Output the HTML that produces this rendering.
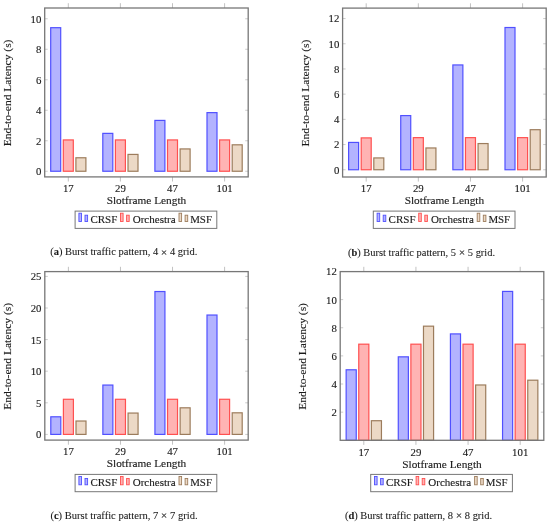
<!DOCTYPE html>
<html><head><meta charset="utf-8"><style>
html,body{margin:0;padding:0;background:#fff;}
svg{display:block;will-change:transform;}
.t{font-family:"Liberation Serif", serif;font-size:10.8px;fill:#1a1a1a;stroke:#1a1a1a;stroke-width:0.12px;}
.cap{font-family:"Liberation Serif", serif;font-size:10px;fill:#1a1a1a;stroke:#1a1a1a;stroke-width:0.08px;}
</style></head><body>
<svg width="550" height="524" viewBox="0 0 550 524">
<rect width="550" height="524" fill="#fff"/>
<rect x="50.70" y="27.69" width="10.00" height="143.56" fill="#b3b3ff" stroke="#5050ff" stroke-width="1.2"/>
<rect x="63.30" y="139.93" width="10.00" height="31.32" fill="#ffb3b3" stroke="#ff5050" stroke-width="1.2"/>
<rect x="75.90" y="157.77" width="10.00" height="13.48" fill="#ecd9c6" stroke="#9c7c5c" stroke-width="1.2"/>
<rect x="102.80" y="133.37" width="10.00" height="37.88" fill="#b3b3ff" stroke="#5050ff" stroke-width="1.2"/>
<rect x="115.40" y="139.93" width="10.00" height="31.32" fill="#ffb3b3" stroke="#ff5050" stroke-width="1.2"/>
<rect x="128.00" y="154.42" width="10.00" height="16.83" fill="#ecd9c6" stroke="#9c7c5c" stroke-width="1.2"/>
<rect x="154.90" y="120.41" width="10.00" height="50.84" fill="#b3b3ff" stroke="#5050ff" stroke-width="1.2"/>
<rect x="167.50" y="139.93" width="10.00" height="31.32" fill="#ffb3b3" stroke="#ff5050" stroke-width="1.2"/>
<rect x="180.10" y="148.93" width="10.00" height="22.32" fill="#ecd9c6" stroke="#9c7c5c" stroke-width="1.2"/>
<rect x="207.00" y="112.63" width="10.00" height="58.62" fill="#b3b3ff" stroke="#5050ff" stroke-width="1.2"/>
<rect x="219.60" y="139.93" width="10.00" height="31.32" fill="#ffb3b3" stroke="#ff5050" stroke-width="1.2"/>
<rect x="232.20" y="144.81" width="10.00" height="26.44" fill="#ecd9c6" stroke="#9c7c5c" stroke-width="1.2"/>
<line x1="44.70" y1="171.25" x2="47.70" y2="171.25" stroke="#999" stroke-width="0.5"/>
<line x1="245.20" y1="171.25" x2="248.20" y2="171.25" stroke="#999" stroke-width="0.5"/>
<text x="41.40" y="175.15" text-anchor="end" class="t">0</text>
<line x1="44.70" y1="140.75" x2="47.70" y2="140.75" stroke="#999" stroke-width="0.5"/>
<line x1="245.20" y1="140.75" x2="248.20" y2="140.75" stroke="#999" stroke-width="0.5"/>
<text x="41.40" y="144.65" text-anchor="end" class="t">2</text>
<line x1="44.70" y1="110.25" x2="47.70" y2="110.25" stroke="#999" stroke-width="0.5"/>
<line x1="245.20" y1="110.25" x2="248.20" y2="110.25" stroke="#999" stroke-width="0.5"/>
<text x="41.40" y="114.15" text-anchor="end" class="t">4</text>
<line x1="44.70" y1="79.75" x2="47.70" y2="79.75" stroke="#999" stroke-width="0.5"/>
<line x1="245.20" y1="79.75" x2="248.20" y2="79.75" stroke="#999" stroke-width="0.5"/>
<text x="41.40" y="83.65" text-anchor="end" class="t">6</text>
<line x1="44.70" y1="49.25" x2="47.70" y2="49.25" stroke="#999" stroke-width="0.5"/>
<line x1="245.20" y1="49.25" x2="248.20" y2="49.25" stroke="#999" stroke-width="0.5"/>
<text x="41.40" y="53.15" text-anchor="end" class="t">8</text>
<line x1="44.70" y1="18.75" x2="47.70" y2="18.75" stroke="#999" stroke-width="0.5"/>
<line x1="245.20" y1="18.75" x2="248.20" y2="18.75" stroke="#999" stroke-width="0.5"/>
<text x="41.40" y="22.65" text-anchor="end" class="t">10</text>
<line x1="68.30" y1="3.20" x2="68.30" y2="8.00" stroke="#999" stroke-width="0.6"/>
<line x1="68.30" y1="176.90" x2="68.30" y2="181.50" stroke="#999" stroke-width="0.6"/>
<text x="68.30" y="192.10" text-anchor="middle" class="t">17</text>
<line x1="120.40" y1="3.20" x2="120.40" y2="8.00" stroke="#999" stroke-width="0.6"/>
<line x1="120.40" y1="176.90" x2="120.40" y2="181.50" stroke="#999" stroke-width="0.6"/>
<text x="120.40" y="192.10" text-anchor="middle" class="t">29</text>
<line x1="172.50" y1="3.20" x2="172.50" y2="8.00" stroke="#999" stroke-width="0.6"/>
<line x1="172.50" y1="176.90" x2="172.50" y2="181.50" stroke="#999" stroke-width="0.6"/>
<text x="172.50" y="192.10" text-anchor="middle" class="t">47</text>
<line x1="224.60" y1="3.20" x2="224.60" y2="8.00" stroke="#999" stroke-width="0.6"/>
<line x1="224.60" y1="176.90" x2="224.60" y2="181.50" stroke="#999" stroke-width="0.6"/>
<text x="224.60" y="192.10" text-anchor="middle" class="t">101</text>
<rect x="44.70" y="8.00" width="203.50" height="168.90" fill="none" stroke="#777777" stroke-width="1.3"/>
<text x="146.45" y="204.10" text-anchor="middle" class="t" textLength="79.5" lengthAdjust="spacingAndGlyphs">Slotframe Length</text>
<text transform="translate(10.90,92.95) rotate(-90)" x="0" y="0" text-anchor="middle" class="t" textLength="106.8" lengthAdjust="spacingAndGlyphs">End-to-end Latency (s)</text>
<rect x="75.10" y="211.10" width="141.7" height="17.3" fill="#fff" stroke="#777777" stroke-width="1"/>
<rect x="78.90" y="213.20" width="2.6" height="8.3" fill="#b3b3ff" stroke="#5050ff" stroke-width="0.9"/>
<rect x="85.00" y="215.20" width="2.6" height="6.3" fill="#b3b3ff" stroke="#5050ff" stroke-width="0.9"/>
<text x="90.40" y="222.50" class="t" textLength="27.0" lengthAdjust="spacingAndGlyphs">CRSF</text>
<rect x="120.50" y="213.20" width="2.6" height="8.3" fill="#ffb3b3" stroke="#ff5050" stroke-width="0.9"/>
<rect x="126.60" y="215.20" width="2.6" height="6.3" fill="#ffb3b3" stroke="#ff5050" stroke-width="0.9"/>
<text x="132.70" y="222.50" class="t" textLength="42.9" lengthAdjust="spacingAndGlyphs">Orchestra</text>
<rect x="179.00" y="213.20" width="2.6" height="8.3" fill="#ecd9c6" stroke="#9c7c5c" stroke-width="0.9"/>
<rect x="185.10" y="215.20" width="2.6" height="6.3" fill="#ecd9c6" stroke="#9c7c5c" stroke-width="0.9"/>
<text x="190.20" y="222.50" class="t" textLength="21.8" lengthAdjust="spacingAndGlyphs">MSF</text>
<text x="50.20" y="255.40" class="cap" textLength="147.2" lengthAdjust="spacingAndGlyphs">(<tspan font-weight="bold">a</tspan>) Burst traffic pattern, 4 <tspan font-size="11px" dy="0.5">×</tspan><tspan dy="-0.5"> 4 grid.</tspan></text>
<rect x="348.60" y="142.43" width="10.00" height="27.32" fill="#b3b3ff" stroke="#5050ff" stroke-width="1.2"/>
<rect x="361.20" y="137.89" width="10.00" height="31.86" fill="#ffb3b3" stroke="#ff5050" stroke-width="1.2"/>
<rect x="373.80" y="157.93" width="10.00" height="11.82" fill="#ecd9c6" stroke="#9c7c5c" stroke-width="1.2"/>
<rect x="400.73" y="115.59" width="10.00" height="54.16" fill="#b3b3ff" stroke="#5050ff" stroke-width="1.2"/>
<rect x="413.33" y="137.64" width="10.00" height="32.11" fill="#ffb3b3" stroke="#ff5050" stroke-width="1.2"/>
<rect x="425.93" y="147.97" width="10.00" height="21.78" fill="#ecd9c6" stroke="#9c7c5c" stroke-width="1.2"/>
<rect x="452.87" y="64.94" width="10.00" height="104.81" fill="#b3b3ff" stroke="#5050ff" stroke-width="1.2"/>
<rect x="465.47" y="137.64" width="10.00" height="32.11" fill="#ffb3b3" stroke="#ff5050" stroke-width="1.2"/>
<rect x="478.07" y="143.56" width="10.00" height="26.19" fill="#ecd9c6" stroke="#9c7c5c" stroke-width="1.2"/>
<rect x="505.00" y="27.52" width="10.00" height="142.23" fill="#b3b3ff" stroke="#5050ff" stroke-width="1.2"/>
<rect x="517.60" y="137.64" width="10.00" height="32.11" fill="#ffb3b3" stroke="#ff5050" stroke-width="1.2"/>
<rect x="530.20" y="129.70" width="10.00" height="40.05" fill="#ecd9c6" stroke="#9c7c5c" stroke-width="1.2"/>
<line x1="342.60" y1="169.75" x2="345.60" y2="169.75" stroke="#999" stroke-width="0.5"/>
<line x1="543.20" y1="169.75" x2="546.20" y2="169.75" stroke="#999" stroke-width="0.5"/>
<text x="339.30" y="173.65" text-anchor="end" class="t">0</text>
<line x1="342.60" y1="144.55" x2="345.60" y2="144.55" stroke="#999" stroke-width="0.5"/>
<line x1="543.20" y1="144.55" x2="546.20" y2="144.55" stroke="#999" stroke-width="0.5"/>
<text x="339.30" y="148.45" text-anchor="end" class="t">2</text>
<line x1="342.60" y1="119.35" x2="345.60" y2="119.35" stroke="#999" stroke-width="0.5"/>
<line x1="543.20" y1="119.35" x2="546.20" y2="119.35" stroke="#999" stroke-width="0.5"/>
<text x="339.30" y="123.25" text-anchor="end" class="t">4</text>
<line x1="342.60" y1="94.15" x2="345.60" y2="94.15" stroke="#999" stroke-width="0.5"/>
<line x1="543.20" y1="94.15" x2="546.20" y2="94.15" stroke="#999" stroke-width="0.5"/>
<text x="339.30" y="98.05" text-anchor="end" class="t">6</text>
<line x1="342.60" y1="68.95" x2="345.60" y2="68.95" stroke="#999" stroke-width="0.5"/>
<line x1="543.20" y1="68.95" x2="546.20" y2="68.95" stroke="#999" stroke-width="0.5"/>
<text x="339.30" y="72.85" text-anchor="end" class="t">8</text>
<line x1="342.60" y1="43.75" x2="345.60" y2="43.75" stroke="#999" stroke-width="0.5"/>
<line x1="543.20" y1="43.75" x2="546.20" y2="43.75" stroke="#999" stroke-width="0.5"/>
<text x="339.30" y="47.65" text-anchor="end" class="t">10</text>
<line x1="342.60" y1="18.55" x2="345.60" y2="18.55" stroke="#999" stroke-width="0.5"/>
<line x1="543.20" y1="18.55" x2="546.20" y2="18.55" stroke="#999" stroke-width="0.5"/>
<text x="339.30" y="22.45" text-anchor="end" class="t">12</text>
<line x1="366.20" y1="3.30" x2="366.20" y2="8.10" stroke="#999" stroke-width="0.6"/>
<line x1="366.20" y1="177.00" x2="366.20" y2="181.60" stroke="#999" stroke-width="0.6"/>
<text x="366.20" y="192.20" text-anchor="middle" class="t">17</text>
<line x1="418.33" y1="3.30" x2="418.33" y2="8.10" stroke="#999" stroke-width="0.6"/>
<line x1="418.33" y1="177.00" x2="418.33" y2="181.60" stroke="#999" stroke-width="0.6"/>
<text x="418.33" y="192.20" text-anchor="middle" class="t">29</text>
<line x1="470.47" y1="3.30" x2="470.47" y2="8.10" stroke="#999" stroke-width="0.6"/>
<line x1="470.47" y1="177.00" x2="470.47" y2="181.60" stroke="#999" stroke-width="0.6"/>
<text x="470.47" y="192.20" text-anchor="middle" class="t">47</text>
<line x1="522.60" y1="3.30" x2="522.60" y2="8.10" stroke="#999" stroke-width="0.6"/>
<line x1="522.60" y1="177.00" x2="522.60" y2="181.60" stroke="#999" stroke-width="0.6"/>
<text x="522.60" y="192.20" text-anchor="middle" class="t">101</text>
<rect x="342.60" y="8.10" width="203.60" height="168.90" fill="none" stroke="#777777" stroke-width="1.3"/>
<text x="444.40" y="204.20" text-anchor="middle" class="t" textLength="79.5" lengthAdjust="spacingAndGlyphs">Slotframe Length</text>
<text transform="translate(308.80,93.05) rotate(-90)" x="0" y="0" text-anchor="middle" class="t" textLength="106.8" lengthAdjust="spacingAndGlyphs">End-to-end Latency (s)</text>
<rect x="373.30" y="211.10" width="141.7" height="17.3" fill="#fff" stroke="#777777" stroke-width="1"/>
<rect x="377.10" y="213.20" width="2.6" height="8.3" fill="#b3b3ff" stroke="#5050ff" stroke-width="0.9"/>
<rect x="383.20" y="215.20" width="2.6" height="6.3" fill="#b3b3ff" stroke="#5050ff" stroke-width="0.9"/>
<text x="388.60" y="222.50" class="t" textLength="27.0" lengthAdjust="spacingAndGlyphs">CRSF</text>
<rect x="418.70" y="213.20" width="2.6" height="8.3" fill="#ffb3b3" stroke="#ff5050" stroke-width="0.9"/>
<rect x="424.80" y="215.20" width="2.6" height="6.3" fill="#ffb3b3" stroke="#ff5050" stroke-width="0.9"/>
<text x="430.90" y="222.50" class="t" textLength="42.9" lengthAdjust="spacingAndGlyphs">Orchestra</text>
<rect x="477.20" y="213.20" width="2.6" height="8.3" fill="#ecd9c6" stroke="#9c7c5c" stroke-width="0.9"/>
<rect x="483.30" y="215.20" width="2.6" height="6.3" fill="#ecd9c6" stroke="#9c7c5c" stroke-width="0.9"/>
<text x="488.40" y="222.50" class="t" textLength="21.8" lengthAdjust="spacingAndGlyphs">MSF</text>
<text x="347.90" y="255.50" class="cap" textLength="147.2" lengthAdjust="spacingAndGlyphs">(<tspan font-weight="bold">b</tspan>) Burst traffic pattern, 5 <tspan font-size="11px" dy="0.5">×</tspan><tspan dy="-0.5"> 5 grid.</tspan></text>
<rect x="50.80" y="416.79" width="10.00" height="17.61" fill="#b3b3ff" stroke="#5050ff" stroke-width="1.2"/>
<rect x="63.40" y="399.28" width="10.00" height="35.12" fill="#ffb3b3" stroke="#ff5050" stroke-width="1.2"/>
<rect x="76.00" y="421.02" width="10.00" height="13.38" fill="#ecd9c6" stroke="#9c7c5c" stroke-width="1.2"/>
<rect x="102.87" y="385.06" width="10.00" height="49.34" fill="#b3b3ff" stroke="#5050ff" stroke-width="1.2"/>
<rect x="115.47" y="399.28" width="10.00" height="35.12" fill="#ffb3b3" stroke="#ff5050" stroke-width="1.2"/>
<rect x="128.07" y="413.06" width="10.00" height="21.34" fill="#ecd9c6" stroke="#9c7c5c" stroke-width="1.2"/>
<rect x="154.93" y="291.53" width="10.00" height="142.87" fill="#b3b3ff" stroke="#5050ff" stroke-width="1.2"/>
<rect x="167.53" y="399.28" width="10.00" height="35.12" fill="#ffb3b3" stroke="#ff5050" stroke-width="1.2"/>
<rect x="180.13" y="407.81" width="10.00" height="26.59" fill="#ecd9c6" stroke="#9c7c5c" stroke-width="1.2"/>
<rect x="207.00" y="315.04" width="10.00" height="119.36" fill="#b3b3ff" stroke="#5050ff" stroke-width="1.2"/>
<rect x="219.60" y="399.28" width="10.00" height="35.12" fill="#ffb3b3" stroke="#ff5050" stroke-width="1.2"/>
<rect x="232.20" y="412.81" width="10.00" height="21.59" fill="#ecd9c6" stroke="#9c7c5c" stroke-width="1.2"/>
<line x1="44.80" y1="434.40" x2="47.80" y2="434.40" stroke="#999" stroke-width="0.5"/>
<line x1="245.20" y1="434.40" x2="248.20" y2="434.40" stroke="#999" stroke-width="0.5"/>
<text x="41.50" y="438.30" text-anchor="end" class="t">0</text>
<line x1="44.80" y1="402.80" x2="47.80" y2="402.80" stroke="#999" stroke-width="0.5"/>
<line x1="245.20" y1="402.80" x2="248.20" y2="402.80" stroke="#999" stroke-width="0.5"/>
<text x="41.50" y="406.70" text-anchor="end" class="t">5</text>
<line x1="44.80" y1="371.20" x2="47.80" y2="371.20" stroke="#999" stroke-width="0.5"/>
<line x1="245.20" y1="371.20" x2="248.20" y2="371.20" stroke="#999" stroke-width="0.5"/>
<text x="41.50" y="375.10" text-anchor="end" class="t">10</text>
<line x1="44.80" y1="339.60" x2="47.80" y2="339.60" stroke="#999" stroke-width="0.5"/>
<line x1="245.20" y1="339.60" x2="248.20" y2="339.60" stroke="#999" stroke-width="0.5"/>
<text x="41.50" y="343.50" text-anchor="end" class="t">15</text>
<line x1="44.80" y1="308.00" x2="47.80" y2="308.00" stroke="#999" stroke-width="0.5"/>
<line x1="245.20" y1="308.00" x2="248.20" y2="308.00" stroke="#999" stroke-width="0.5"/>
<text x="41.50" y="311.90" text-anchor="end" class="t">20</text>
<line x1="44.80" y1="276.40" x2="47.80" y2="276.40" stroke="#999" stroke-width="0.5"/>
<line x1="245.20" y1="276.40" x2="248.20" y2="276.40" stroke="#999" stroke-width="0.5"/>
<text x="41.50" y="280.30" text-anchor="end" class="t">25</text>
<line x1="68.40" y1="266.80" x2="68.40" y2="271.60" stroke="#999" stroke-width="0.6"/>
<line x1="68.40" y1="440.10" x2="68.40" y2="444.70" stroke="#999" stroke-width="0.6"/>
<text x="68.40" y="455.30" text-anchor="middle" class="t">17</text>
<line x1="120.47" y1="266.80" x2="120.47" y2="271.60" stroke="#999" stroke-width="0.6"/>
<line x1="120.47" y1="440.10" x2="120.47" y2="444.70" stroke="#999" stroke-width="0.6"/>
<text x="120.47" y="455.30" text-anchor="middle" class="t">29</text>
<line x1="172.53" y1="266.80" x2="172.53" y2="271.60" stroke="#999" stroke-width="0.6"/>
<line x1="172.53" y1="440.10" x2="172.53" y2="444.70" stroke="#999" stroke-width="0.6"/>
<text x="172.53" y="455.30" text-anchor="middle" class="t">47</text>
<line x1="224.60" y1="266.80" x2="224.60" y2="271.60" stroke="#999" stroke-width="0.6"/>
<line x1="224.60" y1="440.10" x2="224.60" y2="444.70" stroke="#999" stroke-width="0.6"/>
<text x="224.60" y="455.30" text-anchor="middle" class="t">101</text>
<rect x="44.80" y="271.60" width="203.40" height="168.50" fill="none" stroke="#777777" stroke-width="1.3"/>
<text x="146.50" y="467.30" text-anchor="middle" class="t" textLength="79.5" lengthAdjust="spacingAndGlyphs">Slotframe Length</text>
<text transform="translate(11.00,356.35) rotate(-90)" x="0" y="0" text-anchor="middle" class="t" textLength="106.8" lengthAdjust="spacingAndGlyphs">End-to-end Latency (s)</text>
<rect x="75.10" y="474.40" width="141.7" height="17.3" fill="#fff" stroke="#777777" stroke-width="1"/>
<rect x="78.90" y="476.50" width="2.6" height="8.3" fill="#b3b3ff" stroke="#5050ff" stroke-width="0.9"/>
<rect x="85.00" y="478.50" width="2.6" height="6.3" fill="#b3b3ff" stroke="#5050ff" stroke-width="0.9"/>
<text x="90.40" y="485.80" class="t" textLength="27.0" lengthAdjust="spacingAndGlyphs">CRSF</text>
<rect x="120.50" y="476.50" width="2.6" height="8.3" fill="#ffb3b3" stroke="#ff5050" stroke-width="0.9"/>
<rect x="126.60" y="478.50" width="2.6" height="6.3" fill="#ffb3b3" stroke="#ff5050" stroke-width="0.9"/>
<text x="132.70" y="485.80" class="t" textLength="42.9" lengthAdjust="spacingAndGlyphs">Orchestra</text>
<rect x="179.00" y="476.50" width="2.6" height="8.3" fill="#ecd9c6" stroke="#9c7c5c" stroke-width="0.9"/>
<rect x="185.10" y="478.50" width="2.6" height="6.3" fill="#ecd9c6" stroke="#9c7c5c" stroke-width="0.9"/>
<text x="190.20" y="485.80" class="t" textLength="21.8" lengthAdjust="spacingAndGlyphs">MSF</text>
<text x="50.40" y="518.50" class="cap" textLength="147.2" lengthAdjust="spacingAndGlyphs">(<tspan font-weight="bold">c</tspan>) Burst traffic pattern, 7 <tspan font-size="11px" dy="0.5">×</tspan><tspan dy="-0.5"> 7 grid.</tspan></text>
<rect x="346.15" y="369.79" width="10.10" height="70.51" fill="#b3b3ff" stroke="#5050ff" stroke-width="1.2"/>
<rect x="358.75" y="344.18" width="10.10" height="96.12" fill="#ffb3b3" stroke="#ff5050" stroke-width="1.2"/>
<rect x="371.35" y="420.72" width="10.10" height="19.58" fill="#ecd9c6" stroke="#9c7c5c" stroke-width="1.2"/>
<rect x="398.28" y="356.84" width="10.10" height="83.46" fill="#b3b3ff" stroke="#5050ff" stroke-width="1.2"/>
<rect x="410.88" y="344.18" width="10.10" height="96.12" fill="#ffb3b3" stroke="#ff5050" stroke-width="1.2"/>
<rect x="423.48" y="326.17" width="10.10" height="114.13" fill="#ecd9c6" stroke="#9c7c5c" stroke-width="1.2"/>
<rect x="450.42" y="333.91" width="10.10" height="106.39" fill="#b3b3ff" stroke="#5050ff" stroke-width="1.2"/>
<rect x="463.02" y="344.18" width="10.10" height="96.12" fill="#ffb3b3" stroke="#ff5050" stroke-width="1.2"/>
<rect x="475.62" y="384.98" width="10.10" height="55.32" fill="#ecd9c6" stroke="#9c7c5c" stroke-width="1.2"/>
<rect x="502.55" y="291.42" width="10.10" height="148.88" fill="#b3b3ff" stroke="#5050ff" stroke-width="1.2"/>
<rect x="515.15" y="344.18" width="10.10" height="96.12" fill="#ffb3b3" stroke="#ff5050" stroke-width="1.2"/>
<rect x="527.75" y="380.20" width="10.10" height="60.10" fill="#ecd9c6" stroke="#9c7c5c" stroke-width="1.2"/>
<line x1="340.20" y1="412.16" x2="343.20" y2="412.16" stroke="#999" stroke-width="0.5"/>
<line x1="540.80" y1="412.16" x2="543.80" y2="412.16" stroke="#999" stroke-width="0.5"/>
<text x="336.90" y="416.06" text-anchor="end" class="t">2</text>
<line x1="340.20" y1="384.02" x2="343.20" y2="384.02" stroke="#999" stroke-width="0.5"/>
<line x1="540.80" y1="384.02" x2="543.80" y2="384.02" stroke="#999" stroke-width="0.5"/>
<text x="336.90" y="387.92" text-anchor="end" class="t">4</text>
<line x1="340.20" y1="355.88" x2="343.20" y2="355.88" stroke="#999" stroke-width="0.5"/>
<line x1="540.80" y1="355.88" x2="543.80" y2="355.88" stroke="#999" stroke-width="0.5"/>
<text x="336.90" y="359.78" text-anchor="end" class="t">6</text>
<line x1="340.20" y1="327.74" x2="343.20" y2="327.74" stroke="#999" stroke-width="0.5"/>
<line x1="540.80" y1="327.74" x2="543.80" y2="327.74" stroke="#999" stroke-width="0.5"/>
<text x="336.90" y="331.64" text-anchor="end" class="t">8</text>
<line x1="340.20" y1="299.60" x2="343.20" y2="299.60" stroke="#999" stroke-width="0.5"/>
<line x1="540.80" y1="299.60" x2="543.80" y2="299.60" stroke="#999" stroke-width="0.5"/>
<text x="336.90" y="303.50" text-anchor="end" class="t">10</text>
<line x1="340.20" y1="271.46" x2="343.20" y2="271.46" stroke="#999" stroke-width="0.5"/>
<line x1="540.80" y1="271.46" x2="543.80" y2="271.46" stroke="#999" stroke-width="0.5"/>
<text x="336.90" y="275.36" text-anchor="end" class="t">12</text>
<line x1="363.80" y1="266.80" x2="363.80" y2="271.60" stroke="#999" stroke-width="0.6"/>
<line x1="363.80" y1="440.30" x2="363.80" y2="444.90" stroke="#999" stroke-width="0.6"/>
<text x="363.80" y="455.50" text-anchor="middle" class="t">17</text>
<line x1="415.93" y1="266.80" x2="415.93" y2="271.60" stroke="#999" stroke-width="0.6"/>
<line x1="415.93" y1="440.30" x2="415.93" y2="444.90" stroke="#999" stroke-width="0.6"/>
<text x="415.93" y="455.50" text-anchor="middle" class="t">29</text>
<line x1="468.07" y1="266.80" x2="468.07" y2="271.60" stroke="#999" stroke-width="0.6"/>
<line x1="468.07" y1="440.30" x2="468.07" y2="444.90" stroke="#999" stroke-width="0.6"/>
<text x="468.07" y="455.50" text-anchor="middle" class="t">47</text>
<line x1="520.20" y1="266.80" x2="520.20" y2="271.60" stroke="#999" stroke-width="0.6"/>
<line x1="520.20" y1="440.30" x2="520.20" y2="444.90" stroke="#999" stroke-width="0.6"/>
<text x="520.20" y="455.50" text-anchor="middle" class="t">101</text>
<rect x="340.20" y="271.60" width="203.60" height="168.70" fill="none" stroke="#777777" stroke-width="1.3"/>
<text x="442.00" y="467.50" text-anchor="middle" class="t" textLength="79.5" lengthAdjust="spacingAndGlyphs">Slotframe Length</text>
<text transform="translate(306.40,356.45) rotate(-90)" x="0" y="0" text-anchor="middle" class="t" textLength="106.8" lengthAdjust="spacingAndGlyphs">End-to-end Latency (s)</text>
<rect x="370.70" y="474.40" width="141.7" height="17.3" fill="#fff" stroke="#777777" stroke-width="1"/>
<rect x="374.50" y="476.50" width="2.6" height="8.3" fill="#b3b3ff" stroke="#5050ff" stroke-width="0.9"/>
<rect x="380.60" y="478.50" width="2.6" height="6.3" fill="#b3b3ff" stroke="#5050ff" stroke-width="0.9"/>
<text x="386.00" y="485.80" class="t" textLength="27.0" lengthAdjust="spacingAndGlyphs">CRSF</text>
<rect x="416.10" y="476.50" width="2.6" height="8.3" fill="#ffb3b3" stroke="#ff5050" stroke-width="0.9"/>
<rect x="422.20" y="478.50" width="2.6" height="6.3" fill="#ffb3b3" stroke="#ff5050" stroke-width="0.9"/>
<text x="428.30" y="485.80" class="t" textLength="42.9" lengthAdjust="spacingAndGlyphs">Orchestra</text>
<rect x="474.60" y="476.50" width="2.6" height="8.3" fill="#ecd9c6" stroke="#9c7c5c" stroke-width="0.9"/>
<rect x="480.70" y="478.50" width="2.6" height="6.3" fill="#ecd9c6" stroke="#9c7c5c" stroke-width="0.9"/>
<text x="485.80" y="485.80" class="t" textLength="21.8" lengthAdjust="spacingAndGlyphs">MSF</text>
<text x="344.90" y="518.60" class="cap" textLength="147.2" lengthAdjust="spacingAndGlyphs">(<tspan font-weight="bold">d</tspan>) Burst traffic pattern, 8 <tspan font-size="11px" dy="0.5">×</tspan><tspan dy="-0.5"> 8 grid.</tspan></text>
</svg>
</body></html>
